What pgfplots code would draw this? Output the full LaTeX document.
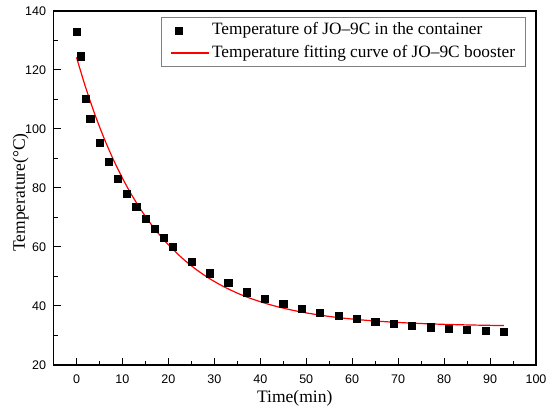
\documentclass[border=0pt]{standalone}
\usepackage{fontspec}
\setmainfont{Liberation Serif}
\newfontfamily\arial{Liberation Sans}
\usepackage{pgfplots}
\pgfplotsset{compat=1.18}
\begin{document}
\begin{tikzpicture}
\begin{axis}[
  scale only axis,
  width=482.5pt, height=354pt,
  xmin=-5, xmax=100, ymin=20, ymax=140,
  xtick={0,10,...,100}, ytick={20,40,...,140},
  minor x tick num=1, minor y tick num=1,
  tick pos=left, tick align=inside,
  major tick length=7pt, minor tick length=4pt,
  axis line style={line width=1.1pt},
  every tick/.style={line width=1pt, black},
  /pgf/number format/assume math mode=true,
  ticklabel style={font=\arial\fontsize{12.5}{15}\selectfont},
  xticklabel style={yshift=-6pt},
  yticklabel style={xshift=-4pt},
  xlabel={Time(min)}, ylabel={Temperature(°C)},
  label style={font=\fontsize{17.5}{21}\selectfont},
  xlabel style={at={(axis description cs:0.5,-0.1073)}, anchor=base},
  ylabel style={at={(axis description cs:-0.0591,0.487)}, rotate=0, anchor=base},
  legend cell align=left,
  legend style={at={(0.2222,0.983)}, anchor=north west, draw=gray,
    font=\fontsize{17.3}{20}\selectfont, inner xsep=9pt, inner ysep=4.5pt,
    nodes={inner sep=1pt, text height=12pt, text depth=4pt},
    row sep=4.3pt, column sep=2pt},
]
\addplot[only marks, mark=square*, mark size=3.6pt, black] coordinates {
(0,133.0) (1,124.7) (2,110.2) (3,103.4) (5,95.4) (7,88.8) (9,83.2) (11,78.0)
(13,73.7) (15,69.7) (17,66.3) (19,63.2) (21,60.2) (25,54.9) (29,51.1) (33,47.9)
(37,44.7) (41,42.5) (45,40.7) (49,39.1) (53,37.7) (57,36.6) (61,35.6) (65,34.6)
(69,33.9) (73,33.2) (77,32.8) (81,32.4) (85,32.0) (89,31.6) (93,31.3)};
\addlegendentry{Temperature of JO--9C in the container}
\addplot[red, line width=1.2pt, smooth, no marks,
  legend image code/.code={\draw[red, line width=1.2pt] (0pt,0pt) -- (38pt,0pt);}] coordinates {
(0,124.3) (2,114.06) (4,104.96) (6,96.88) (8,89.71) (10,83.35) (12,77.69) (14,72.68)
(16,68.22) (18,64.27) (20,60.76) (23,56.23) (26,52.43) (29,49.25) (32,46.59) (35,44.37)
(38,42.51) (42,40.49) (46,38.91) (50,37.66) (55,36.46) (60,35.57) (65,34.91) (70,34.42)
(75,34.05) (80,33.78) (86,33.55) (93,33.36)};
\addlegendentry{Temperature fitting curve of JO--9C booster}
\end{axis}
\pgfresetboundingbox
\path (-53.5pt,-46pt) rectangle (496.5pt,365pt);
\end{tikzpicture}
\end{document}
